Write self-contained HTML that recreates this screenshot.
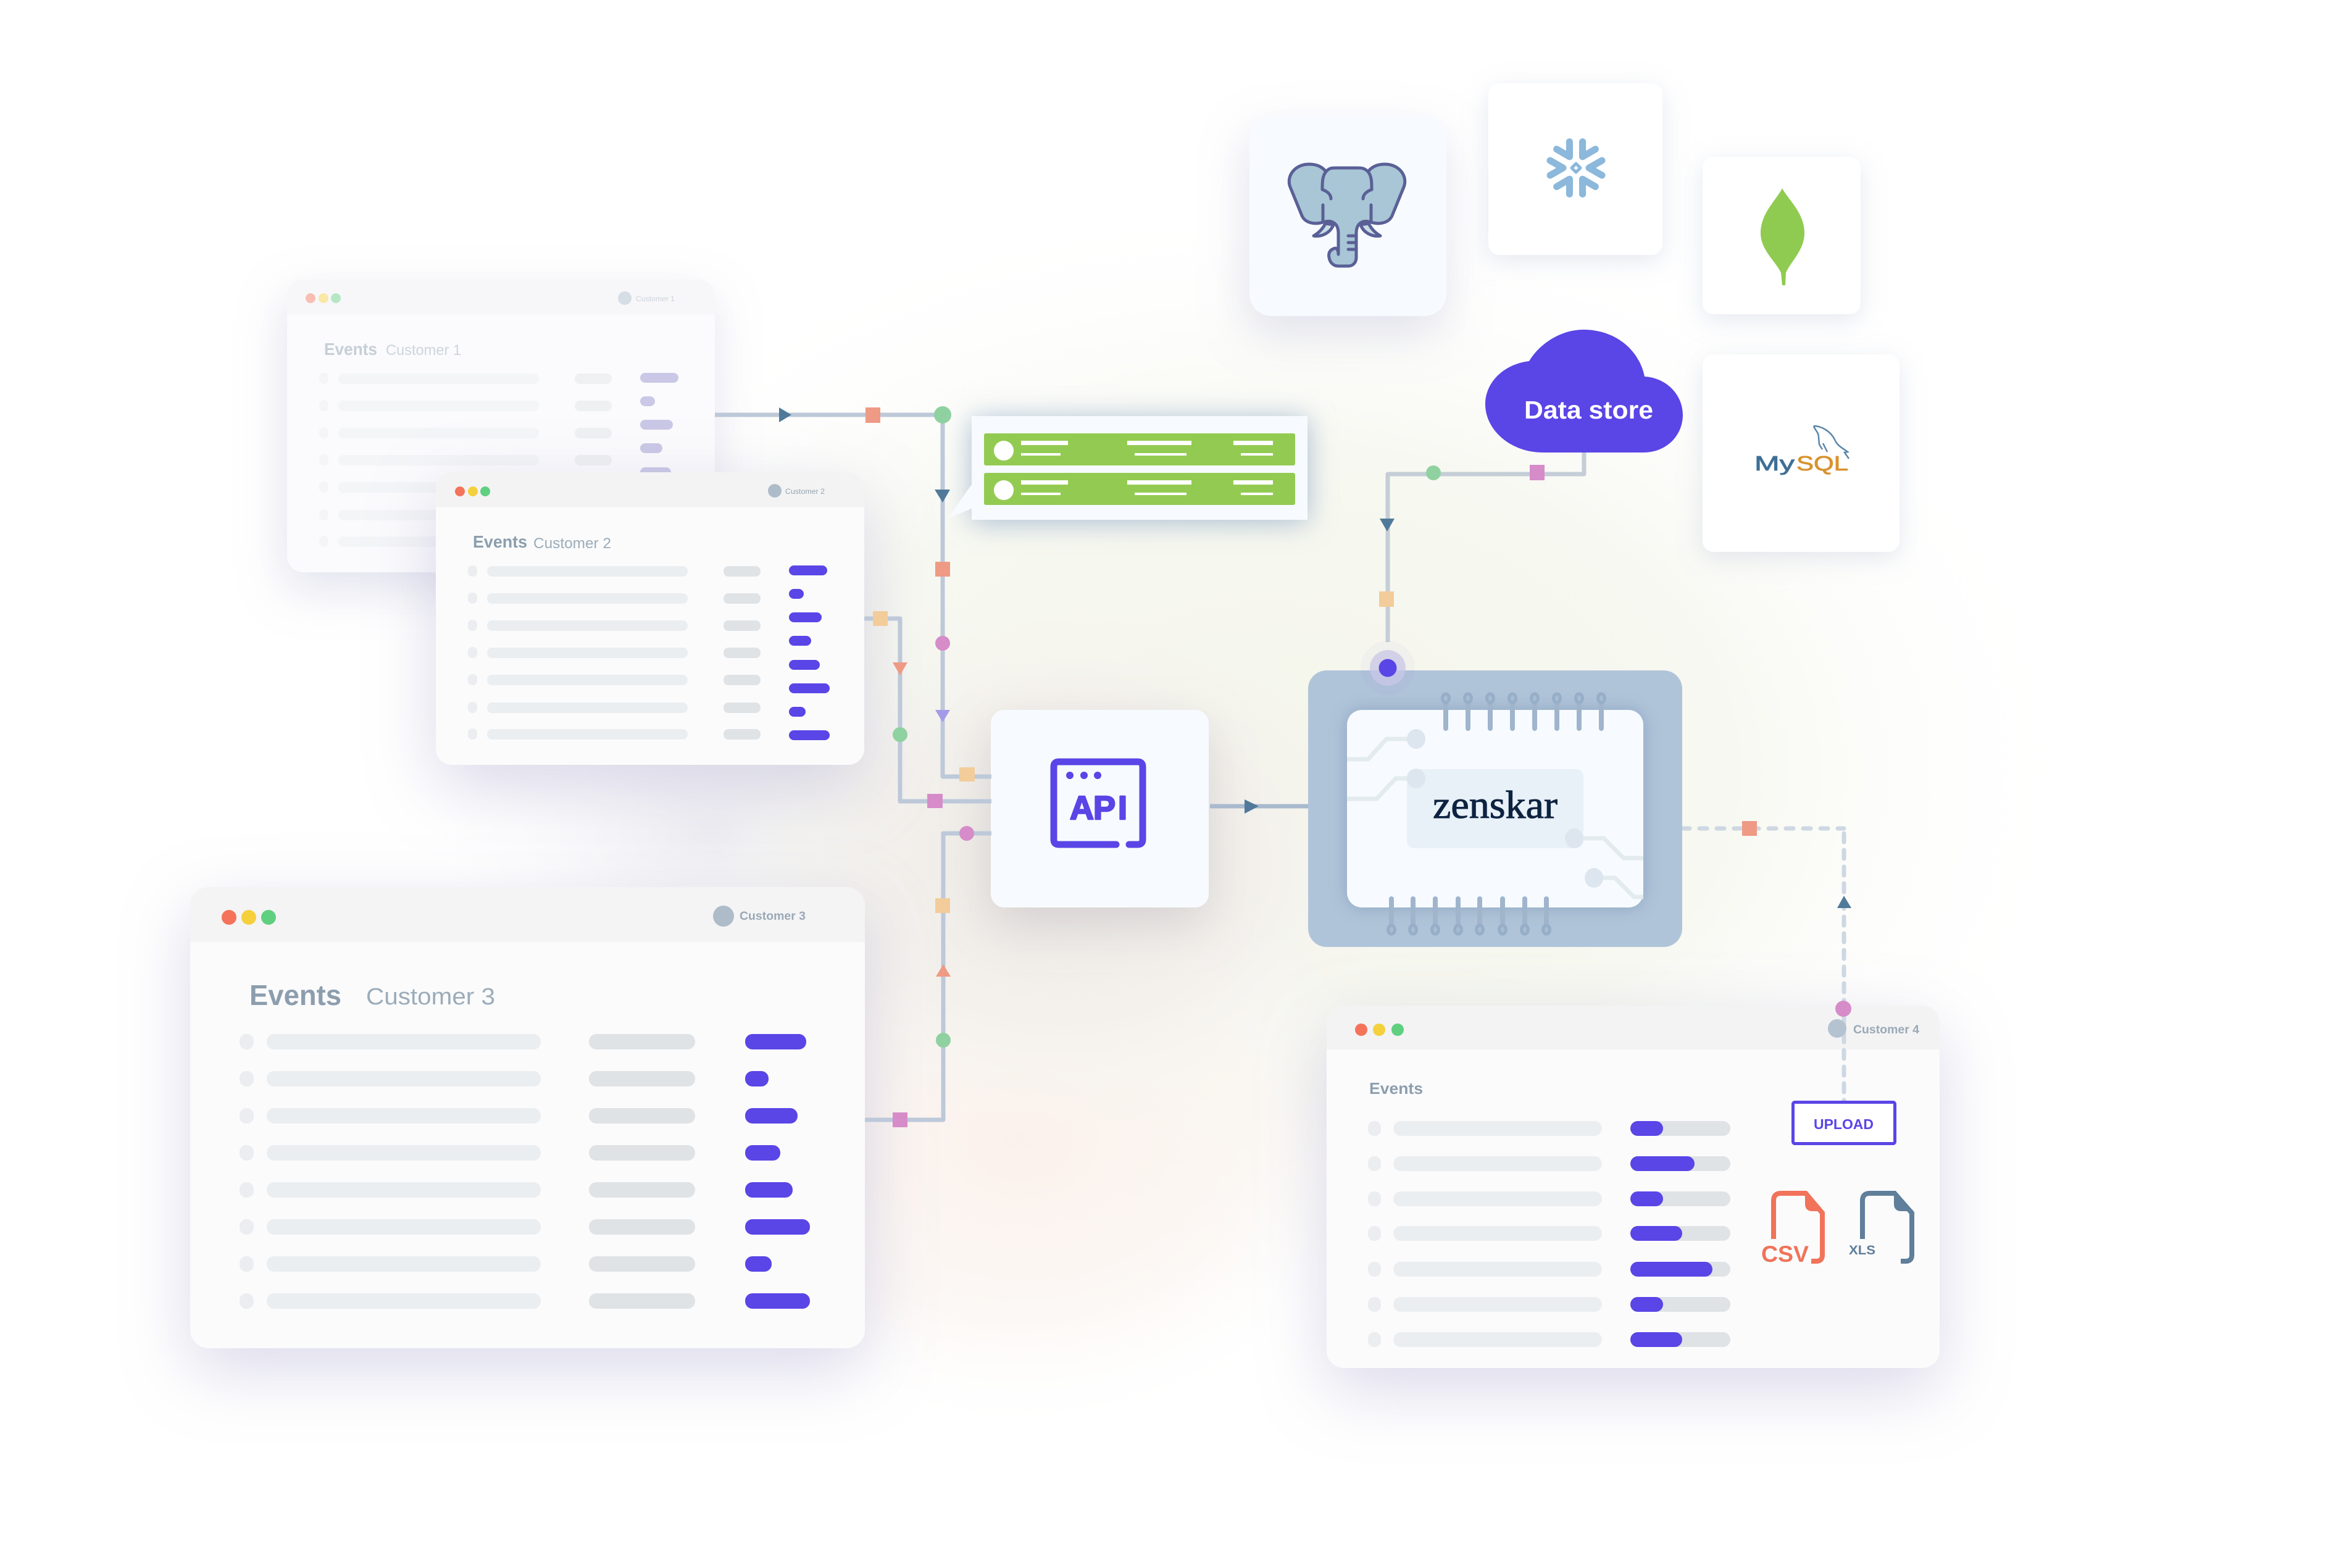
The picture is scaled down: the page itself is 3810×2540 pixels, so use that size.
<!DOCTYPE html>
<html><head><meta charset="utf-8"><style>html,body{margin:0;padding:0;background:#fff}svg{display:block}text{font-family:"Liberation Sans",sans-serif}</style></head>
<body>
<svg xmlns="http://www.w3.org/2000/svg" width="3810" height="2540" viewBox="0 0 3810 2540">
<defs>
<radialGradient id="g1"><stop offset="0" stop-color="#f4f5ea"/><stop offset=".55" stop-color="#f7f8f1"/><stop offset="1" stop-color="#fff" stop-opacity="0"/></radialGradient>
<radialGradient id="g2"><stop offset="0" stop-color="#fbf1ec"/><stop offset=".6" stop-color="#fbf5f1" stop-opacity=".7"/><stop offset="1" stop-color="#fff" stop-opacity="0"/></radialGradient>
<radialGradient id="g3"><stop offset="0" stop-color="#e6e4ef"/><stop offset="1" stop-color="#fff" stop-opacity="0"/></radialGradient>
<radialGradient id="g4"><stop offset="0" stop-color="#ece8e4"/><stop offset=".6" stop-color="#f3f0ec" stop-opacity=".8"/><stop offset="1" stop-color="#f7f6f2" stop-opacity="0"/></radialGradient>
<filter id="sL" x="-30%" y="-30%" width="160%" height="180%"><feDropShadow dx="0" dy="35" stdDeviation="55" flood-color="#a09bc8" flood-opacity=".38"/></filter>
<filter id="sM" x="-50%" y="-50%" width="200%" height="210%"><feDropShadow dx="-4" dy="28" stdDeviation="38" flood-color="#a5a4cb" flood-opacity=".32"/></filter>
<filter id="sB" x="-20%" y="-40%" width="140%" height="180%"><feDropShadow dx="0" dy="4" stdDeviation="22" flood-color="#8aa4c4" flood-opacity=".72"/></filter>
<filter id="sC" x="-30%" y="-30%" width="160%" height="160%"><feDropShadow dx="0" dy="10" stdDeviation="20" flood-color="#a9b4cc" flood-opacity=".3"/></filter>
<filter id="sA" x="-40%" y="-40%" width="180%" height="190%"><feDropShadow dx="0" dy="28" stdDeviation="38" flood-color="#a9a0a8" flood-opacity=".35"/></filter>
<g id="rowsA">
<g fill="#ecedf0"><rect x="758" y="916" width="15" height="18" rx="7"/><rect x="758" y="960" width="15" height="18" rx="7"/><rect x="758" y="1004" width="15" height="18" rx="7"/><rect x="758" y="1048" width="15" height="18" rx="7"/><rect x="758" y="1092" width="15" height="18" rx="7"/><rect x="758" y="1137" width="15" height="18" rx="7"/><rect x="758" y="1180" width="15" height="18" rx="7"/></g>
<g fill="#ebeef0"><rect x="789" y="917" width="325" height="17" rx="8"/><rect x="789" y="961" width="325" height="17" rx="8"/><rect x="789" y="1005" width="325" height="17" rx="8"/><rect x="789" y="1049" width="325" height="17" rx="8"/><rect x="789" y="1093" width="325" height="17" rx="8"/><rect x="789" y="1138" width="325" height="17" rx="8"/><rect x="789" y="1181" width="325" height="17" rx="8"/></g>
<g fill="#e0e3e5"><rect x="1172" y="917" width="60" height="17" rx="8"/><rect x="1172" y="961" width="60" height="17" rx="8"/><rect x="1172" y="1005" width="60" height="17" rx="8"/><rect x="1172" y="1049" width="60" height="17" rx="8"/><rect x="1172" y="1093" width="60" height="17" rx="8"/><rect x="1172" y="1138" width="60" height="17" rx="8"/><rect x="1172" y="1181" width="60" height="17" rx="8"/></g>
</g>
<g id="barsA"><rect x="1278" y="916" width="62" height="16" rx="8"/><rect x="1278" y="954" width="24" height="16" rx="8"/><rect x="1278" y="992" width="53" height="16" rx="8"/><rect x="1278" y="1030" width="36" height="16" rx="8"/><rect x="1278" y="1069" width="50" height="16" rx="8"/><rect x="1278" y="1107" width="66" height="16" rx="8"/><rect x="1278" y="1145" width="27" height="16" rx="8"/><rect x="1278" y="1183" width="66" height="16" rx="8"/></g>
</defs>
<rect width="3810" height="2540" fill="#fff"/>
<ellipse cx="2050" cy="1250" rx="1350" ry="950" fill="url(#g1)"/>
<ellipse cx="1650" cy="1850" rx="620" ry="480" fill="url(#g2)"/>
<ellipse cx="1150" cy="1350" rx="500" ry="300" fill="url(#g3)" opacity=".6"/>
<ellipse cx="1720" cy="1400" rx="560" ry="430" fill="url(#g4)"/>

<!-- Window 1 -->
<rect x="465" y="453" width="693" height="474" rx="26" fill="#fbfbfd" filter="url(#sM)"/>
<g opacity=".45">
<path d="M465 509V479a26 26 0 0 1 26-26H1132a26 26 0 0 1 26 26V509Z" fill="#f1f1f3"/>
<circle cx="503" cy="483" r="8" fill="#f4735a"/><circle cx="524" cy="483" r="8" fill="#f5d03c"/><circle cx="544" cy="483" r="8" fill="#5fcf80"/>
<circle cx="1012" cy="483" r="11" fill="#a9b9c7"/>
<text x="1030" y="488" font-size="12" fill="#8fa0af" textLength="63" lengthAdjust="spacingAndGlyphs">Customer 1</text>
<text x="525" y="575" font-size="28" font-weight="bold" fill="#8598a8" textLength="86" lengthAdjust="spacingAndGlyphs">Events</text>
<text x="625" y="575" font-size="24" fill="#95a6b4" textLength="122" lengthAdjust="spacingAndGlyphs">Customer 1</text>
<use href="#rowsA" x="-241" y="-312"/>
</g>
<g fill="#cac8e6"><use href="#barsA" x="-241" y="-312"/></g>

<!-- Window 2 -->
<rect x="706" y="765" width="694" height="474" rx="26" fill="#fbfbfc" filter="url(#sL)"/>
<path d="M706 821V791a26 26 0 0 1 26-26H1374a26 26 0 0 1 26 26V821Z" fill="#f3f3f4"/>
<circle cx="745" cy="796" r="8" fill="#f4735a"/><circle cx="766" cy="796" r="8" fill="#f5d03c"/><circle cx="786" cy="796" r="8" fill="#5fcf80"/>
<circle cx="1255" cy="795" r="11" fill="#aebcc9"/>
<text x="1272" y="800" font-size="12" fill="#94a4b2" textLength="64" lengthAdjust="spacingAndGlyphs">Customer 2</text>
<text x="766" y="887" font-size="28" font-weight="bold" fill="#8c9eae" textLength="88" lengthAdjust="spacingAndGlyphs">Events</text>
<text x="864" y="888" font-size="24" fill="#9cacb9" textLength="126" lengthAdjust="spacingAndGlyphs">Customer 2</text>
<use href="#rowsA"/>
<g fill="#5a45e6"><use href="#barsA"/></g>

<!-- Window 3 -->
<rect x="308" y="1437" width="1093" height="747" rx="30" fill="#fbfbfc" filter="url(#sL)"/>
<path d="M308 1526V1467a30 30 0 0 1 30-30H1371a30 30 0 0 1 30 30V1526Z" fill="#f4f4f5"/>
<circle cx="371" cy="1486" r="12" fill="#f4735a"/><circle cx="403" cy="1486" r="12" fill="#f5d03c"/><circle cx="435" cy="1486" r="12" fill="#5fcf80"/>
<circle cx="1172" cy="1484" r="17" fill="#aebcc9"/>
<text x="1198" y="1490" font-size="19" font-weight="bold" fill="#9aa9b6" textLength="107" lengthAdjust="spacingAndGlyphs">Customer 3</text>
<text x="404" y="1628" font-size="46" font-weight="bold" fill="#8c9eae" textLength="149" lengthAdjust="spacingAndGlyphs">Events</text>
<text x="593" y="1627" font-size="38" fill="#9cacb9" textLength="209" lengthAdjust="spacingAndGlyphs">Customer 3</text>
<g fill="#ecedf0"><rect x="388" y="1675" width="23" height="25" rx="11"/><rect x="388" y="1735" width="23" height="25" rx="11"/><rect x="388" y="1795" width="23" height="25" rx="11"/><rect x="388" y="1855" width="23" height="25" rx="11"/><rect x="388" y="1915" width="23" height="25" rx="11"/><rect x="388" y="1975" width="23" height="25" rx="11"/><rect x="388" y="2035" width="23" height="25" rx="11"/><rect x="388" y="2095" width="23" height="25" rx="11"/></g>
<g fill="#ebeef0"><rect x="432" y="1675" width="444" height="25" rx="12"/><rect x="432" y="1735" width="444" height="25" rx="12"/><rect x="432" y="1795" width="444" height="25" rx="12"/><rect x="432" y="1855" width="444" height="25" rx="12"/><rect x="432" y="1915" width="444" height="25" rx="12"/><rect x="432" y="1975" width="444" height="25" rx="12"/><rect x="432" y="2035" width="444" height="25" rx="12"/><rect x="432" y="2095" width="444" height="25" rx="12"/></g>
<g fill="#e0e3e5"><rect x="954" y="1675" width="172" height="25" rx="12"/><rect x="954" y="1735" width="172" height="25" rx="12"/><rect x="954" y="1795" width="172" height="25" rx="12"/><rect x="954" y="1855" width="172" height="25" rx="12"/><rect x="954" y="1915" width="172" height="25" rx="12"/><rect x="954" y="1975" width="172" height="25" rx="12"/><rect x="954" y="2035" width="172" height="25" rx="12"/><rect x="954" y="2095" width="172" height="25" rx="12"/></g>
<g fill="#5a45e6"><rect x="1207" y="1675" width="99" height="25" rx="12"/><rect x="1207" y="1735" width="38" height="25" rx="12"/><rect x="1207" y="1795" width="85" height="25" rx="12"/><rect x="1207" y="1855" width="57" height="25" rx="12"/><rect x="1207" y="1915" width="77" height="25" rx="12"/><rect x="1207" y="1975" width="105" height="25" rx="12"/><rect x="1207" y="2035" width="43" height="25" rx="12"/><rect x="1207" y="2095" width="105" height="25" rx="12"/></g>

<!-- Window 4 -->
<rect x="2149" y="1629" width="993" height="587" rx="28" fill="#fbfbfc" filter="url(#sL)"/>
<path d="M2149 1700V1657a28 28 0 0 1 28-28H3114a28 28 0 0 1 28 28V1700Z" fill="#f3f3f4"/>
<circle cx="2205" cy="1668" r="10" fill="#f4735a"/><circle cx="2234" cy="1668" r="10" fill="#f5d03c"/><circle cx="2264" cy="1668" r="10" fill="#5fcf80"/>
<text x="2218" y="1772" font-size="26" font-weight="bold" fill="#8c9eae" textLength="87" lengthAdjust="spacingAndGlyphs">Events</text>
<text x="3002" y="1674" font-size="19" font-weight="bold" fill="#9aa9b6" textLength="107" lengthAdjust="spacingAndGlyphs">Customer 4</text>
<g fill="#ecedf0"><rect x="2216" y="1816" width="21" height="24" rx="10"/><rect x="2216" y="1873" width="21" height="24" rx="10"/><rect x="2216" y="1930" width="21" height="24" rx="10"/><rect x="2216" y="1986" width="21" height="24" rx="10"/><rect x="2216" y="2044" width="21" height="24" rx="10"/><rect x="2216" y="2101" width="21" height="24" rx="10"/><rect x="2216" y="2158" width="21" height="24" rx="10"/></g>
<g fill="#ebeef0"><rect x="2257" y="1816" width="338" height="24" rx="12"/><rect x="2257" y="1873" width="338" height="24" rx="12"/><rect x="2257" y="1930" width="338" height="24" rx="12"/><rect x="2257" y="1986" width="338" height="24" rx="12"/><rect x="2257" y="2044" width="338" height="24" rx="12"/><rect x="2257" y="2101" width="338" height="24" rx="12"/><rect x="2257" y="2158" width="338" height="24" rx="12"/></g>
<g fill="#e0e3e5"><rect x="2641" y="1816" width="162" height="24" rx="12"/><rect x="2641" y="1873" width="162" height="24" rx="12"/><rect x="2641" y="1930" width="162" height="24" rx="12"/><rect x="2641" y="1986" width="162" height="24" rx="12"/><rect x="2641" y="2044" width="162" height="24" rx="12"/><rect x="2641" y="2101" width="162" height="24" rx="12"/><rect x="2641" y="2158" width="162" height="24" rx="12"/></g>
<g fill="#5a45e6"><rect x="2641" y="1816" width="53" height="24" rx="12"/><rect x="2641" y="1873" width="104" height="24" rx="12"/><rect x="2641" y="1930" width="53" height="24" rx="12"/><rect x="2641" y="1986" width="84" height="24" rx="12"/><rect x="2641" y="2044" width="133" height="24" rx="12"/><rect x="2641" y="2101" width="53" height="24" rx="12"/><rect x="2641" y="2158" width="84" height="24" rx="12"/></g>

<!-- API box (before connectors so lines meet it) -->
<rect x="1605" y="1150" width="353" height="320" rx="22" fill="#f7fbff" filter="url(#sA)"/>

<!-- Connectors -->
<g fill="none" stroke="#bdc9d9" stroke-width="7" stroke-linejoin="round">
<path d="M1158 672H1527V1258H1606"/>
<path d="M1400 1002H1458V1298H1606"/>
<path d="M1401 1814H1528V1350H1606"/>
<path d="M1960 1306H2122" stroke="#a9bace"/>
<path d="M2566 733V768H2248V1040" stroke="#c5ced6"/>
<path d="M2725 1342H2987" stroke="#ced8e2" stroke-dasharray="12 16" stroke-linecap="round"/>
<path d="M2987 1350V1783" stroke="#ced8e2" stroke-dasharray="14 13" stroke-linecap="round"/>
</g>

<!-- Markers -->
<polygon points="1262,660 1262,684 1282,672" fill="#517a9a"/>
<rect x="1402" y="660" width="24" height="25" fill="#ee9a85"/>
<circle cx="1527" cy="672" r="14" fill="#8fd1a0"/>
<rect x="1414" y="990" width="24" height="24" fill="#f2cc9a"/>
<polygon points="1446,1073 1470,1073 1458,1094" fill="#ee9a85"/>
<circle cx="1458" cy="1190" r="12" fill="#8fd1a0"/>
<rect x="1502" y="1286" width="25" height="23" fill="#d68cc9"/>
<rect x="1554" y="1243" width="25" height="23" fill="#f2cc9a"/>
<circle cx="1566" cy="1350" r="12" fill="#d68cc9"/>
<rect x="1515" y="910" width="24" height="24" fill="#ee9a85"/>
<circle cx="1527" cy="1042" r="12" fill="#d68cc9"/>
<polygon points="1515,1150 1539,1150 1527,1170" fill="#a49be8"/>
<rect x="1515" y="1455" width="24" height="24" fill="#f2cc9a"/>
<polygon points="1516,1582 1540,1582 1528,1562" fill="#ee9a85"/>
<circle cx="1528" cy="1685" r="12" fill="#8fd1a0"/>
<rect x="1446" y="1802" width="24" height="24" fill="#d68cc9"/>
<polygon points="2016,1295 2016,1318 2039,1306" fill="#517a9a"/>
<circle cx="2322" cy="766" r="12" fill="#8fd1a0"/>
<rect x="2478" y="753" width="24" height="25" fill="#d68cc9"/>
<polygon points="2235,840 2259,840 2247,861" fill="#517a9a"/>
<rect x="2234" y="958" width="24" height="25" fill="#f2cc9a"/>
<rect x="2822" y="1330" width="24" height="24" fill="#ee9a85"/>
<polygon points="2976,1471 2999,1471 2987,1451" fill="#517a9a"/>
<circle cx="2986" cy="1634" r="13" fill="#d68cc9"/>
<circle cx="2976" cy="1666" r="15" fill="#b4c3cf"/>

<!-- Bubble -->
<rect x="1574" y="674" width="544" height="168" fill="#f7fbff" filter="url(#sB)"/>
<polygon points="1514,793 1539,793 1527,814" fill="#517a9a"/>
<polygon points="1576,782 1535,840 1576,823" fill="#f7fbff"/>
<rect x="1594" y="702" width="504" height="52" rx="3" fill="#93cb52"/>
<rect x="1594" y="766" width="504" height="52" rx="3" fill="#93cb52"/>
<g fill="#fff">
<circle cx="1626" cy="730" r="16"/><circle cx="1626" cy="794" r="16"/>
<rect x="1654" y="714" width="76" height="7"/><rect x="1654" y="734" width="64" height="4"/>
<rect x="1826" y="714" width="104" height="7"/><rect x="1838" y="734" width="84" height="4"/>
<rect x="1998" y="714" width="64" height="7"/><rect x="2010" y="734" width="52" height="4"/>
<rect x="1654" y="778" width="76" height="7"/><rect x="1654" y="798" width="64" height="4"/>
<rect x="1826" y="778" width="104" height="7"/><rect x="1838" y="798" width="84" height="4"/>
<rect x="1998" y="778" width="64" height="7"/><rect x="2010" y="798" width="52" height="4"/>
</g>

<!-- API icon -->
<path d="M1808 1368H1715Q1707 1368 1707 1360V1242Q1707 1234 1715 1234H1843Q1851 1234 1851 1242V1360Q1851 1368 1843 1368H1829" fill="none" stroke="#5a45e6" stroke-width="11" stroke-linecap="round"/>
<circle cx="1733" cy="1256" r="6" fill="#5a45e6"/><circle cx="1756" cy="1256" r="6" fill="#5a45e6"/><circle cx="1778" cy="1256" r="6" fill="#5a45e6"/>
<text x="1733 1771 1811" y="1327" font-size="54" font-weight="bold" fill="#5a45e6" stroke="#5a45e6" stroke-width="2.5" stroke-linejoin="round">API</text>

<!-- Chip -->
<rect x="2119" y="1086" width="606" height="448" rx="30" fill="#b0c4d9"/>
<circle cx="2248" cy="1082" r="44" fill="#5a45e6" opacity=".03"/>
<circle cx="2248" cy="1082" r="29" fill="#c9c7e6" opacity=".75"/>
<circle cx="2248" cy="1082" r="14.5" fill="#5a45e6"/>
<rect x="2182" y="1150" width="480" height="320" rx="24" fill="#f7fbff" style="filter:drop-shadow(0 0 14px #8ea6c2)"/>
<g fill="none" stroke="#e3ebef" stroke-width="7">
<path d="M2182 1230H2216L2246 1197H2293"/><path d="M2182 1294H2230L2261 1261H2293"/>
</g>
<rect x="2279" y="1246" width="286" height="128" rx="12" fill="#e8f0f8"/>
<g fill="none" stroke="#e3ebef" stroke-width="7">
<path d="M2550 1358H2598L2630 1390H2662"/><path d="M2582 1422H2616L2647 1453H2662"/>
</g>
<g fill="#dde6ef"><ellipse cx="2294" cy="1197" rx="15" ry="16"/><ellipse cx="2294" cy="1261" rx="15" ry="16"/><ellipse cx="2550" cy="1358" rx="15" ry="16"/><ellipse cx="2582" cy="1422" rx="15" ry="16"/></g>
<text x="2321" y="1325" font-size="64" style="font-family:'Liberation Serif',serif" fill="#0c2340" stroke="#0c2340" stroke-width="1" textLength="202" lengthAdjust="spacingAndGlyphs">zenskar</text>
<g stroke="#a0b5cc" stroke-width="8" fill="none" stroke-linecap="round">
<path d="M2342 1132V1180M2378 1132V1180M2414 1132V1180M2450 1132V1180M2486 1132V1180M2522 1132V1180M2558 1132V1180M2594 1132V1180"/>
<path d="M2254 1456V1502M2289 1456V1502M2325 1456V1502M2362 1456V1502M2397 1456V1502M2434 1456V1502M2470 1456V1502M2505 1456V1502"/>
</g>
<g fill="#a8bdd3" stroke="#97aec8" stroke-width="5">
<ellipse cx="2342" cy="1131" rx="5.5" ry="7"/><ellipse cx="2378" cy="1131" rx="5.5" ry="7"/><ellipse cx="2414" cy="1131" rx="5.5" ry="7"/><ellipse cx="2450" cy="1131" rx="5.5" ry="7"/><ellipse cx="2486" cy="1131" rx="5.5" ry="7"/><ellipse cx="2522" cy="1131" rx="5.5" ry="7"/><ellipse cx="2558" cy="1131" rx="5.5" ry="7"/><ellipse cx="2594" cy="1131" rx="5.5" ry="7"/>
<ellipse cx="2254" cy="1506" rx="5.5" ry="7"/><ellipse cx="2289" cy="1506" rx="5.5" ry="7"/><ellipse cx="2325" cy="1506" rx="5.5" ry="7"/><ellipse cx="2362" cy="1506" rx="5.5" ry="7"/><ellipse cx="2397" cy="1506" rx="5.5" ry="7"/><ellipse cx="2434" cy="1506" rx="5.5" ry="7"/><ellipse cx="2470" cy="1506" rx="5.5" ry="7"/><ellipse cx="2505" cy="1506" rx="5.5" ry="7"/>
</g>

<!-- Cards -->
<rect x="2024" y="188" width="319" height="324" rx="36" fill="#f7fbff" filter="url(#sM)"/>
<rect x="2411" y="135" width="282" height="278" rx="18" fill="#fff" filter="url(#sC)"/>
<rect x="2758" y="254" width="256" height="255" rx="18" fill="#fff" filter="url(#sC)"/>
<rect x="2758" y="574" width="319" height="320" rx="18" fill="#fff" filter="url(#sC)"/>

<!-- Elephant -->
<g stroke="#5a6096" stroke-width="5" stroke-linejoin="round" stroke-linecap="round">
<path d="M2147 362C2142 372 2135 378 2128 382C2140 384 2155 378 2160 364Z" fill="#c8dce6"/>
<path d="M2217 362C2222 372 2229 378 2236 382C2224 384 2209 378 2204 364Z" fill="#c8dce6"/>
<path d="M2148 278C2140 268 2130 266 2120 266C2098 266 2083 285 2090 303L2108 347C2113 362 2130 364 2143 360C2158 355 2168 362 2168 378V412C2168 405 2165 400 2160 403C2150 407 2153 417 2153 417C2154 425 2160 431 2168 431H2184C2192 431 2197 425 2197 417V378C2197 362 2207 355 2221 360C2234 364 2251 362 2256 347L2274 303C2281 285 2266 266 2244 266C2234 266 2224 268 2216 278C2210 272 2205 272 2200 272H2164C2158 272 2153 272 2148 278Z" fill="#a8c6d6"/>
<path d="M2148 278C2142 285 2142 295 2142 307C2150 310 2156 315 2156 322M2143 332V360M2216 278C2222 285 2222 295 2222 307C2214 310 2208 315 2208 322M2221 332V360M2184 382H2195M2184 393H2195M2184 404H2195" fill="none"/>
</g>

<!-- Snowflake -->
<g transform="translate(2553 272)" fill="none" stroke="#8bb8db" stroke-linecap="round" stroke-linejoin="round" stroke-width="11">
<path transform="rotate(30)" d="M-12 -42L0 -21L12 -42"/>
<path transform="rotate(90)" d="M-12 -42L0 -21L12 -42"/>
<path transform="rotate(150)" d="M-12 -42L0 -21L12 -42"/>
<path transform="rotate(210)" d="M-12 -42L0 -21L12 -42"/>
<path transform="rotate(270)" d="M-12 -42L0 -21L12 -42"/>
<path transform="rotate(330)" d="M-12 -42L0 -21L12 -42"/>
<path d="M0 -7L7 0L0 7L-7 0Z" stroke-width="5"/>
</g>

<!-- Leaf -->
<path d="M2887 305C2898 325 2923 345 2923 378C2923 405 2900 425 2893 442L2892 462H2887L2885 442C2878 425 2852 405 2852 378C2852 345 2877 325 2887 305Z" fill="#8fcb50"/>

<!-- MySQL -->
<text x="2842" y="762" font-size="33" fill="#3f6f96" stroke="#3f6f96" stroke-width=".8" textLength="65" lengthAdjust="spacingAndGlyphs">My</text>
<text x="2910" y="762" font-size="33" fill="#d8922f" stroke="#d8922f" stroke-width=".8" textLength="84" lengthAdjust="spacingAndGlyphs">SQL</text>
<path d="M2938 690C2950 690 2965 698 2972 712C2976 722 2985 726 2993 732L2988 733L2995 743M2938 690C2940 697 2946 700 2946 708L2947 720L2952 728M2953 718L2960 732" fill="none" stroke="#5b86a8" stroke-width="2.5"/>

<!-- Cloud -->
<path d="M2500 733C2445 733 2406 695 2406 655C2406 620 2435 590 2477 585C2495 555 2530 534 2565 534C2615 534 2655 565 2664 610C2700 612 2726 640 2726 672C2726 705 2700 733 2662 733Z" fill="#5a45e6"/>
<text x="2469" y="678" font-size="41" font-weight="bold" fill="#fff" textLength="209" lengthAdjust="spacingAndGlyphs">Data store</text>

<!-- Upload -->
<rect x="2904.5" y="1785.5" width="165" height="67" rx="3" fill="#fff" stroke="#5a45e6" stroke-width="5"/>
<text x="2938" y="1829" font-size="23" font-weight="bold" fill="#5a45e6" textLength="97" lengthAdjust="spacingAndGlyphs">UPLOAD</text>

<!-- File icons -->
<g fill="none" stroke="#f0735a" stroke-width="8">
<path d="M2873 2007V1945Q2873 1933 2885 1933H2925L2952 1965V2033Q2952 2043 2942 2043H2934"/>
</g>
<path d="M2924 1932L2955 1962H2936Q2924 1962 2924 1950Z" fill="#f0735a"/>
<text x="2853" y="2044" font-size="37" font-weight="bold" fill="#f0735a" textLength="77" lengthAdjust="spacingAndGlyphs">CSV</text>
<g fill="none" stroke="#5f7f9b" stroke-width="8">
<path d="M3017 2007V1945Q3017 1933 3029 1933H3069L3097 1965V2033Q3097 2043 3087 2043H3079"/>
</g>
<path d="M3068 1932L3100 1962H3080Q3068 1962 3068 1950Z" fill="#5f7f9b"/>
<text x="2995" y="2032" font-size="21" font-weight="bold" fill="#5f7f9b" textLength="43" lengthAdjust="spacingAndGlyphs">XLS</text>
</svg>
</body></html>
